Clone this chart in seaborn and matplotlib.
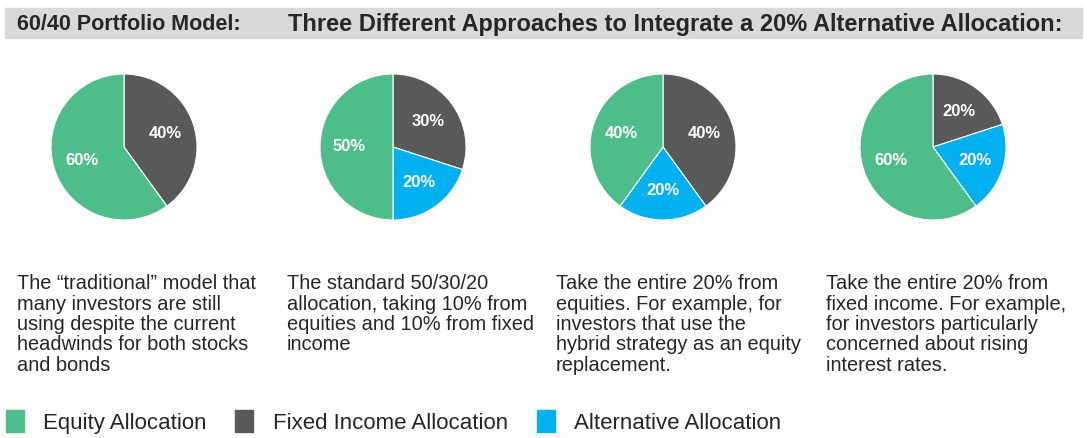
'''
60/40 portfolio model vs three ways to fit in a 20% alternative allocation
'''
import matplotlib
matplotlib.use('Agg')
import matplotlib.pyplot as plt
import matplotlib.patches as mpatches
import seaborn as sns

# data
categories = ['Fixed Income Allocation', 'Alternative Allocation', 'Equity Allocation']
legend_order = ['Equity Allocation', 'Fixed Income Allocation', 'Alternative Allocation']
portfolios = [
    [40, 0, 60],
    [30, 20, 50],
    [40, 20, 40],
    [20, 20, 60],
]
descriptions = [
    'The \u201ctraditional\u201d model that\nmany investors are still\nusing despite the current\nheadwinds for both stocks\nand bonds',
    'The standard 50/30/20\nallocation, taking 10% from\nequities and 10% from fixed\nincome',
    'Take the entire 20% from\nequities. For example, for\ninvestors that use the\nhybrid strategy as an equity\nreplacement.',
    'Take the entire 20% from\nfixed income. For example,\nfor investors particularly\nconcerned about rising\ninterest rates.',
]
header_left = '60/40 Portfolio Model:'
header_right = 'Three Different Approaches to Integrate a 20% Alternative Allocation:'

colors = {'Equity Allocation': '#4dbd8b',
          'Fixed Income Allocation': '#595959',
          'Alternative Allocation': '#00b0f0'}

sns.set_theme(style='white')
plt.rcParams['font.family'] = ['Liberation Sans', 'DejaVu Sans']

W, H = 1087, 438
fig = plt.figure(figsize=(W / 100, H / 100), dpi=100)

# header band
fig.add_artist(mpatches.Rectangle((5 / W, (H - 38) / H), 1077 / W, 30 / H,
                                  transform=fig.transFigure, color='#d9d9d9', zorder=0))
fig.text(17 / W, (H - 24) / H, header_left, fontsize=15.5, fontweight='bold',
         va='center', ha='left')
fig.text(288 / W, (H - 24) / H, header_right, fontsize=17, fontweight='bold',
         va='center', ha='left')

centers = [124, 393, 663, 933]
text_x = [17, 287, 556, 826]
for i, vals in enumerate(portfolios):
    cx = centers[i]
    ax = fig.add_axes([(cx - 75) / W, (H - 147 - 75) / H, 150 / W, 150 / H])
    v = [x for x in vals if x > 0]
    c = [colors[categories[j]] for j, x in enumerate(vals) if x > 0]
    wedges, texts, autotexts = ax.pie(v, colors=c, startangle=90, counterclock=False,
                                      radius=73 / 75, autopct='%d%%', pctdistance=0.6,
                                      wedgeprops=dict(linewidth=0.8, edgecolor='white'))
    for t in autotexts:
        t.set_color('white')
        t.set_fontweight('bold')
        t.set_fontsize(12)
    ax.set_xlim(-1, 1)
    ax.set_ylim(-1, 1)
    ax.set_aspect('equal')
    ax.axis('off')

    fig.text(text_x[i] / W, (H - 274) / H, descriptions[i], fontsize=14.4,
             va='top', ha='left', linespacing=1.1)

handles = [mpatches.Patch(color=colors[k], label=k) for k in legend_order]
fig.legend(handles=handles, loc='lower left', bbox_to_anchor=(0.001, 0.0),
           ncol=3, frameon=False, fontsize=16, handlelength=0.82, handleheight=1.14,
           handletextpad=0.86, columnspacing=1.3, borderpad=0.1, borderaxespad=0.1)

fig.savefig('out.png', dpi=100)
